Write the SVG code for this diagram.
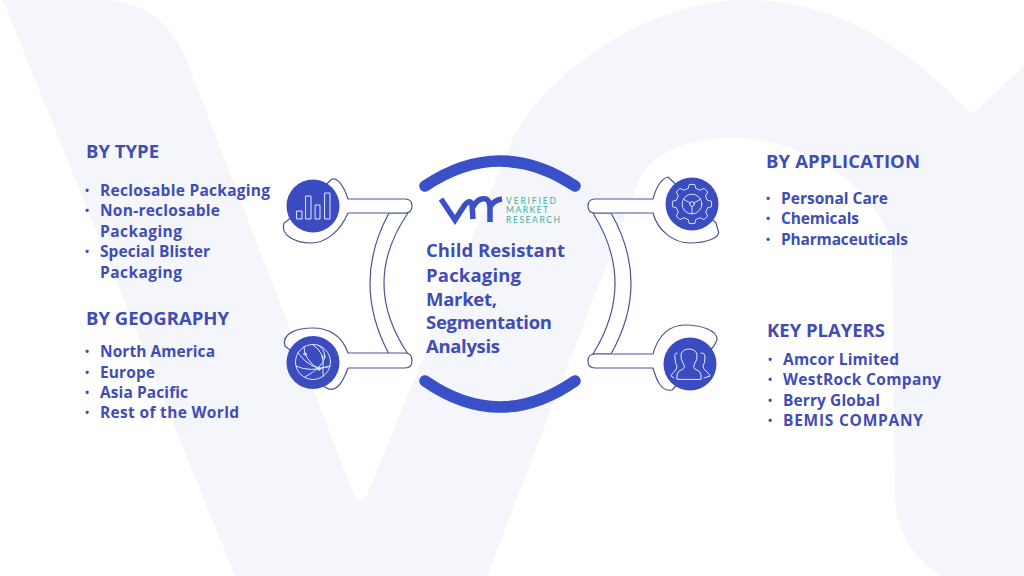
<svg xmlns="http://www.w3.org/2000/svg" width="1024" height="576" viewBox="0 0 1024 576">
<style>
.h{font:700 18.500px "Open Sans","Liberation Sans",sans-serif;fill:#3f4db5}
.i{font:700 15.500px "Open Sans","Liberation Sans",sans-serif;fill:#3f4db5}
.b{font:700 11px "Open Sans","Liberation Sans",sans-serif;fill:#3f4db5}
.t{font:700 18.500px "Open Sans","Liberation Sans",sans-serif;fill:#3f4db5}
.l{font:500 8.500px Lato,"Open Sans",sans-serif;fill:#45b9a4}
.o{fill:#fff;stroke:#4a5698;stroke-width:1.200;stroke-linejoin:round}
.d{fill:#3a4cc0}
.w{fill:none;stroke:#e4e8fa;stroke-width:1;stroke-linejoin:round;stroke-linecap:round}
.a{fill:none;stroke:#3a50c8;stroke-width:11.500;stroke-linecap:round}
</style>
<rect width="1024" height="576" fill="#fff"/>
<path id="bg" fill="#f4f6fc" d="M3,0 L110,0 C150,5 172,25 187,62 L352,490 C356,504 364,504 369,490 L512,140 C545,75 640,5 738,0 C830,-2 900,40 972,114 L1024,66 L1024,576 L942,576 C915,560 895,530 895,496 L892,250 C885,190 800,135 732,138 C690,138 655,150 639,180 L487,576 L235,576 Z"/>
<g id="connectors">
<path class="o" d="M389,213 Q351,283 389,354 L408,354 Q360,283 408,213 Z"/>
<path class="o" d="M611,213 Q651,283 611,354 L593,354 Q637,283 593,213 Z"/>
<path class="o" d="M332,179 C340,178 345,190 348,199 L405,199 Q412,199 412,206 Q412,213 405,213 L348,213 C340,232 325,243 311,243 C295,243 280,235 284,223 L287,221 Z"/>
<path class="o" d="M348,353 C342,335 328,328 313,328 C298,328 281,333 285,346 L290,350 L325,387 C333,393 341,388 348,368 L405,368 Q412,368 412,360.500 Q412,353 405,353 Z"/>
<path class="o" d="M668,177 C660,179 656,188 653,199 L595,199 Q588,199 588,206 Q588,213 595,213 L653,213 C658,232 675,243 690,243 C705,243 722,238 718,230 L716,223 Z"/>
<path class="o" d="M653,354 C658,335 670,325 685,325 C700,325 718,330 717,340 L714,346 L672,390 C662,392 657,382 653,368 L595,368 Q588,368 588,361 Q588,354 595,354 Z"/>
</g>
<g id="node-type">
<circle class="d" cx="313" cy="206" r="26.500"/>
<path class="w" d="M297,211h5v8h-5zM306,196h5v23h-5zM315.500,205h4.500v14h-4.500zM325,193h5v26h-5z"/>
<text class="h" x="86" y="158" textLength="73">BY TYPE</text>
<text class="b" x="85" y="194">•</text><text class="i" x="100" y="196" textLength="170">Reclosable Packaging</text>
<text class="b" x="85" y="214">•</text><text class="i" x="100" y="216" textLength="120">Non-reclosable</text>
<text class="i" x="100" y="237" textLength="82">Packaging</text>
<text class="b" x="85" y="255">•</text><text class="i" x="100" y="257" textLength="110">Special Blister</text>
<text class="i" x="100" y="278" textLength="82">Packaging</text>
</g>
<g id="node-geography">
<circle class="d" cx="313" cy="362.500" r="26.500"/>
<g class="w"><circle cx="313" cy="362" r="17.500"/>
<path d="M298,353 Q312,372 328,367 M305,377 Q322,368 325,357 Q324,348 318,345 M313,345 Q325,352 323,368 L323,376 M304,347 Q303,358 319,370 M296,366 Q310,373 330,366"/>
<circle cx="305" cy="354" r="1.200"/><circle cx="323.500" cy="357" r="1.200"/><circle cx="319" cy="369" r="1.200"/></g>
<text class="h" x="86" y="325" textLength="143">BY GEOGRAPHY</text>
<text class="b" x="85" y="355">•</text><text class="i" x="100" y="357" textLength="115">North America</text>
<text class="b" x="85" y="376">•</text><text class="i" x="100" y="378" textLength="55">Europe</text>
<text class="b" x="85" y="396">•</text><text class="i" x="100" y="398" textLength="88">Asia Pacific</text>
<text class="b" x="85" y="416">•</text><text class="i" x="100" y="418" textLength="139">Rest of the World</text>
</g>
<g id="node-center">
<path class="a" d="M425,186 Q500,136 575,186"/>
<path class="a" d="M425,381 Q500,433 575,381"/>
<path fill="none" stroke="#3a50c8" stroke-width="5.500" d="M441,199 L455,220 L464,206 Q470,198 472,205 L473,219 M473,207 Q478,197 486,199 Q490,201 490,208 L490,222 M490,207 Q494,200 502,199"/>
<text class="l" x="506" y="204" textLength="50">VERIFIED</text>
<text class="l" x="506" y="213" textLength="42">MARKET</text>
<text class="l" x="506" y="222.500" textLength="54">RESEARCH</text>
<text class="t" x="426" y="257" textLength="139">Child Resistant</text>
<text class="t" x="426" y="282" textLength="95">Packaging</text>
<text class="t" x="426" y="306" textLength="71">Market,</text>
<text class="t" x="426" y="329" textLength="126">Segmentation</text>
<text class="t" x="426" y="353" textLength="74">Analysis</text>
</g>
<g id="node-application">
<circle class="d" cx="692" cy="204" r="26.500"/>
<g class="w" transform="translate(692 204) scale(.94)">
<path d="M16.500,-4.100L20.800,-2.900L20.800,2.900L16.500,4.100L14.600,8.800L16.800,12.700L12.700,16.800L8.800,14.600L4.100,16.500L2.900,20.800L-2.900,20.800L-4.100,16.500L-8.800,14.600L-12.700,16.800L-16.800,12.700L-14.600,8.800L-16.500,4.100L-20.800,2.900L-20.800,-2.900L-16.500,-4.100L-14.600,-8.800L-16.800,-12.700L-12.700,-16.800L-8.800,-14.600L-4.100,-16.500L-2.900,-20.800L2.900,-20.800L4.100,-16.500L8.800,-14.600L12.700,-16.800L16.800,-12.700L14.600,-8.800Z"/>
<circle r="10.500"/><circle r="2.500"/><path d="M0,2.500V10.500M-2.200,-1.200L-9,-5M2.200,-1.200L9,-5"/></g>
<text class="h" x="766" y="168" textLength="154">BY APPLICATION</text>
<text class="b" x="766" y="202">•</text><text class="i" x="781" y="204" textLength="107">Personal Care</text>
<text class="b" x="766" y="222">•</text><text class="i" x="781" y="224" textLength="78">Chemicals</text>
<text class="b" x="766" y="243">•</text><text class="i" x="781" y="245" textLength="127">Pharmaceuticals</text>
</g>
<g id="node-players">
<circle class="d" cx="690" cy="364" r="26.500"/>
<g class="w">
<path d="M677,379 L677,375 Q677,371 683,369 Q685,368 684,365 Q680,359 681,354 Q683,349 689,349 Q695,349 697,354 Q698,359 694,365 Q693,368 695,369 Q701,371 701,375 L701,379 Z"/>
<path d="M677,353 Q674,353 675,358 Q675,363 677,366 Q677,369 675,371 Q672,373 671,376 L674,378"/>
<path d="M701,353 Q705,352 705,358 Q705,363 703,366 Q703,369 706,371 Q709,373 710,376 L704,378"/></g>
<text class="h" x="767" y="337" textLength="118">KEY PLAYERS</text>
<text class="b" x="768" y="363">•</text><text class="i" x="783" y="365" textLength="116">Amcor Limited</text>
<text class="b" x="768" y="383">•</text><text class="i" x="783" y="385" textLength="158">WestRock Company</text>
<text class="b" x="768" y="404">•</text><text class="i" x="783" y="406" textLength="97">Berry Global</text>
<text class="b" x="768" y="424">•</text><text class="i" x="783" y="426" textLength="140">BEMIS COMPANY</text>
</g>
</svg>
